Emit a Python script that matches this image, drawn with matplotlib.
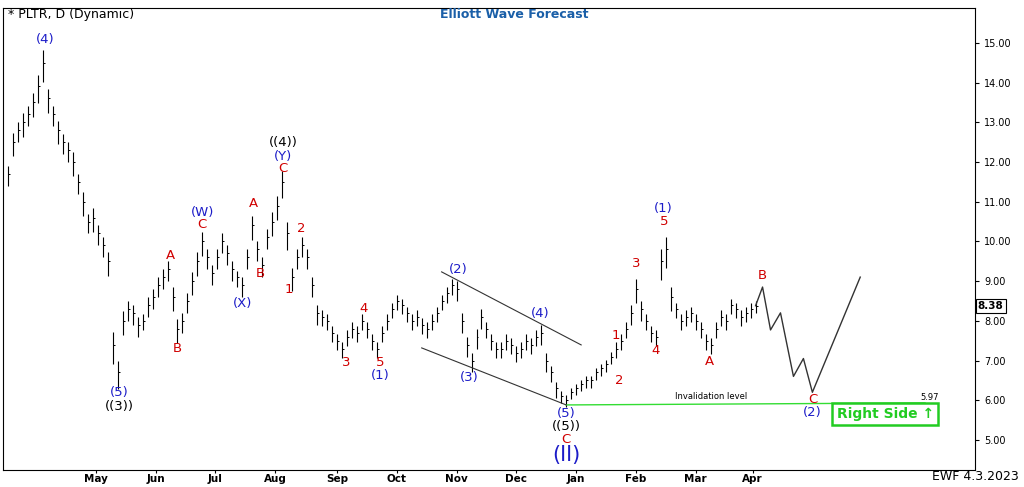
import matplotlib
matplotlib.use("Agg")
import matplotlib.pyplot as plt

closes = [11.7,12.5,12.8,13.0,13.2,13.5,13.9,14.5,13.6,13.2,12.8,12.5,12.3,12.0,11.5,11.0,10.5,10.6,10.2,9.9,9.5,7.4,6.7,8.0,8.3,8.2,7.9,8.0,8.4,8.6,8.9,9.1,9.3,8.6,7.8,8.0,8.5,9.0,9.5,10.0,9.6,9.2,9.6,10.0,9.7,9.3,9.1,8.9,9.6,10.4,9.8,9.4,10.1,10.5,10.9,11.5,10.2,9.1,9.6,9.9,9.6,8.9,8.2,8.1,8.0,7.7,7.5,7.3,7.6,7.8,7.7,8.0,7.8,7.5,7.3,7.7,8.0,8.3,8.5,8.4,8.2,8.0,8.1,7.9,7.8,8.0,8.2,8.5,8.7,8.9,8.8,8.0,7.4,7.0,7.6,8.1,7.8,7.5,7.3,7.3,7.5,7.4,7.2,7.3,7.5,7.4,7.6,7.7,7.0,6.7,6.3,6.1,6.0,6.2,6.3,6.4,6.5,6.5,6.7,6.8,6.9,7.1,7.3,7.5,7.8,8.2,8.8,8.3,8.0,7.7,7.6,9.5,9.8,8.6,8.3,8.0,8.1,8.2,8.0,7.8,7.5,7.4,7.8,8.1,8.0,8.4,8.3,8.1,8.2,8.3,8.38]
ranges = [0.5,0.6,0.5,0.6,0.5,0.6,0.7,0.8,0.6,0.5,0.6,0.5,0.5,0.6,0.5,0.6,0.5,0.6,0.5,0.5,0.6,0.8,0.7,0.6,0.5,0.5,0.5,0.4,0.5,0.5,0.5,0.5,0.5,0.6,0.6,0.5,0.5,0.6,0.6,0.6,0.5,0.5,0.5,0.5,0.5,0.5,0.4,0.5,0.5,0.6,0.5,0.5,0.5,0.6,0.6,0.7,0.7,0.6,0.5,0.5,0.5,0.5,0.5,0.4,0.4,0.4,0.4,0.4,0.4,0.4,0.4,0.4,0.4,0.4,0.4,0.4,0.4,0.4,0.4,0.4,0.4,0.4,0.4,0.4,0.4,0.4,0.4,0.4,0.4,0.4,0.5,0.5,0.5,0.5,0.5,0.5,0.4,0.4,0.4,0.4,0.4,0.4,0.4,0.4,0.4,0.4,0.4,0.5,0.5,0.4,0.4,0.3,0.3,0.3,0.3,0.3,0.3,0.3,0.3,0.3,0.3,0.3,0.4,0.4,0.4,0.5,0.6,0.5,0.4,0.4,0.4,0.8,0.8,0.6,0.4,0.4,0.4,0.4,0.4,0.4,0.4,0.4,0.4,0.4,0.4,0.4,0.4,0.4,0.4,0.4,0.3]
months = ["May","Jun","Jul","Aug","Sep","Oct","Nov","Dec","Jan","Feb","Mar","Apr"]
month_idx = [17.6,29.6,41.6,53.6,66,78,90,102,114,126,138,149.4]
proj_x = [150,151.4,153,155,157.6,159.6,161.4,171]
proj_y = [8.38,8.85,7.77,8.2,6.6,7.05,6.2,9.1]

def px(x): return (x-5)/5
def py(y): return 5+(440-y)/39.7

fig = plt.figure(figsize=(10.24,4.87), dpi=100)
ax = fig.add_axes([0.003,0.035,0.949,0.949])
ax.set_xlim(px(0), px(975)); ax.set_ylim(py(470), py(8))
for i,(c,r) in enumerate(zip(closes,ranges)):
    ax.vlines(i, c-r*0.6, c+r*0.4, color="black", lw=0.8)
    ax.hlines(c, i, i+0.4, color="black", lw=0.7)
ax.plot(proj_x, proj_y, color="#333333", lw=1)
ax.plot([px(565),px(925)],[py(405),py(403)], color="#33dd33", lw=1)
ax.plot([px(440),px(580)],[py(272),py(345)], color="#333333", lw=0.8)
ax.plot([px(420),px(565)],[py(348),py(405)], color="#333333", lw=0.8)

B,R,K = "#1c1cc8","#d00000","black"
labels = [(42,40,"(4)",B),(117,393,"(5)",B),(117,407,"((3))",K),(168,256,"A",R),(175,349,"B",R),
 (200,213,"(W)",B),(199,225,"C",R),(240,304,"(X)",B),(251,204,"A",R),(258,274,"B",R),
 (281,143,"((4))",K),(281,157,"(Y)",B),(281,169,"C",R),(287,290,"1",R),(299,229,"2",R),
 (344,363,"3",R),(362,309,"4",R),(378,363,"5",R),(378,376,"(1)",B),(457,270,"(2)",B),
 (468,378,"(3)",B),(539,314,"(4)",B),(565,414,"(5)",B),(565,427,"((5))",K),(565,440,"C",R),
 (615,336,"1",R),(618,381,"2",R),(635,264,"3",R),(655,351,"4",R),(662,209,"(1)",B),(663,222,"5",R),
 (709,362,"A",R),(762,276,"B",R),(812,400,"C",R),(812,413,"(2)",B)]
for x,y,t,c in labels:
    ax.text(px(x),py(y),t,color=c,fontsize=9.5,ha="center",va="center")
ax.text(px(565),py(455),"(II)",color=B,fontsize=15,ha="center",va="center")
ax.text(px(710),py(397),"Invalidation level",fontsize=6,ha="center",va="center")
ax.text(px(930),py(398),"5.97",fontsize=6,ha="center",va="center")
ax.text(px(885),py(414),"Right Side ↑",color="#22cc22",fontsize=10,fontweight="bold",ha="center",va="center",
        bbox=dict(boxstyle="square,pad=0.3",fc="white",ec="#22cc22",lw=1.8))
ax.text(px(5),py(15),"* PLTR, D (Dynamic)",fontsize=9,ha="left",va="center")
ax.text(px(513),py(15),"Elliott Wave Forecast",fontsize=9,fontweight="bold",color="#1a5fa8",ha="center",va="center")

ax.yaxis.tick_right()
ax.set_yticks([5,6,7,8,9,10,11,12,13,14,15])
ax.set_yticklabels([f"{v:.2f}" for v in range(5,16)], fontsize=7)
ax.set_xticks(month_idx); ax.set_xticklabels(months, fontsize=7.5, fontweight="bold")
ax.tick_params(axis="x", length=2, pad=1)
ax.tick_params(axis="y", length=3)
ax.text(1.003, 8.38, "8.38", transform=ax.get_yaxis_transform(), fontsize=7.5, fontweight="bold",
        va="center", ha="left", bbox=dict(boxstyle="square,pad=0.2",fc="white",ec="black",lw=0.8))
fig.text(0.995,0.008,"EWF 4.3.2023",fontsize=9,ha="right",va="bottom")
fig.savefig("out.png", dpi=100)
